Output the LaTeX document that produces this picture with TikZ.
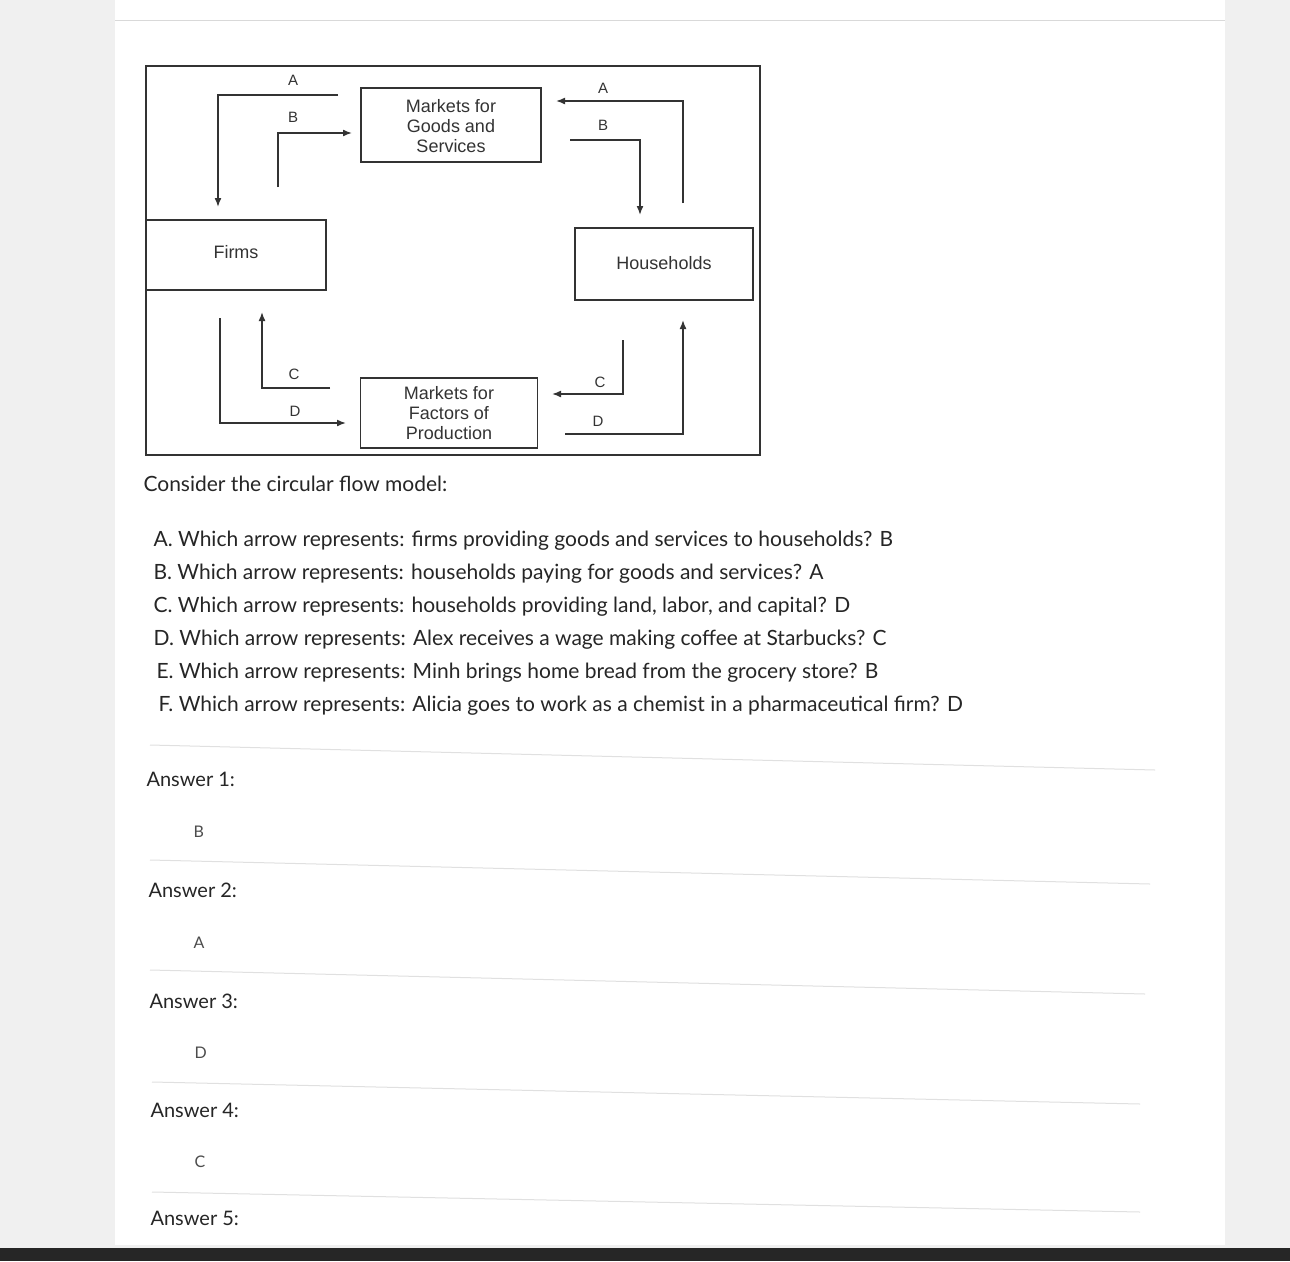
\documentclass[tikz,border=0pt]{standalone}
\usepackage{fontspec}
\usetikzlibrary{arrows.meta}
\setmainfont{Lato}
\newfontfamily\diag{Liberation Sans}
\begin{document}
\begin{tikzpicture}[x=1pt,y=-1pt,
  box/.style={draw=black!80,line width=1.6pt,inner sep=0pt},
  lab/.style={font=\diag\fontsize{15}{15}\selectfont,text=black!80},
  mk/.style={font=\diag\fontsize{18}{20}\selectfont,text=black!80,align=center},
  flow/.style={draw=black!80,line width=1.6pt,-{Latex[length=9pt,width=7pt]}},
  q/.style={anchor=west,font=\fontsize{21}{22}\selectfont,text=black!85},
  ans/.style={anchor=west,font=\fontsize{20}{22}\selectfont,text=black!85},
  val/.style={anchor=west,font=\fontsize{16}{16}\selectfont,text=black!70},
  sep/.style={draw=black!12,line width=1pt}]
\useasboundingbox (0,0) rectangle (1290,1261);
\fill[black!6] (0,0) rectangle (1290,1261);
\fill[white] (115,0) rectangle (1225,1245);
\draw[black!15] (115,20) -- (1225,20);
\fill[black!85] (0,1248) rectangle (1290,1261);
% frame
\draw[box] (146,66) rectangle (760,455);
\node[box,fill=white,minimum width=180pt,minimum height=70pt] (firms) at (236,255) {};
\node[lab,font=\diag\fontsize{18}{18}\selectfont] at (236,252) {Firms};
\node[box,fill=white,minimum width=178pt,minimum height=72pt] (hh) at (664,264) {};
\node[lab,font=\diag\fontsize{18}{18}\selectfont] at (664,263) {Households};
\node[box,minimum width=180pt,minimum height=74pt] (gm) at (451,125) {};
\node[mk] at (451,126) {Markets for\\Goods and\\Services};
\node[box,minimum width=177pt,minimum height=70pt] (fm) at (449,413) {};
\node[mk] at (449,413) {Markets for\\Factors of\\Production};
% top-left
\coordinate (a1) at (338,95);
\draw[flow] (a1) -- (218,95) -- (218,207);
\coordinate (b1) at (278,187);
\draw[flow] (b1) -- (278,133) -- (352,133);
\node[lab] (lA1) at (293,80) {A};
\node[lab] (lB1) at (293,117) {B};
% top-right
\coordinate (a2) at (683,203);
\draw[flow] (a2) -- (683,101) -- (556,101);
\coordinate (b2) at (570,140);
\draw[flow] (b2) -- (640,140) -- (640,215);
\node[lab] (lA2) at (603,88) {A};
\node[lab] (lB2) at (603,125) {B};
% bottom-left
\coordinate (c1) at (330,388);
\draw[flow] (c1) -- (262,388) -- (262,312);
\coordinate (d1) at (220,318);
\draw[flow] (d1) -- (220,423) -- (346,423);
\node[lab] (lC1) at (294,374) {C};
\node[lab] (lD1) at (295,411) {D};
% bottom-right
\coordinate (c2) at (623,340);
\draw[flow] (c2) -- (623,394) -- (552,394);
\coordinate (d2) at (565,434);
\draw[flow] (d2) -- (683,434) -- (683,320);
\node[lab] (lC2) at (600,382) {C};
\node[lab] (lD2) at (598,421) {D};
% text
\node[q] (t0) at (140,484) {Consider the circular flow model:};
\node[q] (t1) at (150,541) {A. Which arrow represents: firms providing goods and services to households? B};
\node[q] (t2) at (150,574) {B. Which arrow represents: households paying for goods and services? A};
\node[q] (t3) at (150,607) {C. Which arrow represents: households providing land, labor, and capital? D};
\node[q] (t4) at (150,640) {D. Which arrow represents: Alex receives a wage making coffee at Starbucks? C};
\node[q] (t5) at (153,673) {E. Which arrow represents: Minh brings home bread from the grocery store? B};
\node[q] (t6) at (155,706) {F. Which arrow represents: Alicia goes to work as a chemist in a pharmaceutical firm? D};
\draw[sep] (150,745) -- (1155,770);
\node[ans] (n1) at (143,779) {Answer 1:};
\node[val] (v1) at (190,832) {B};
\draw[sep] (150,860) -- (1150,884);
\node[ans] (n2) at (145,890) {Answer 2:};
\node[val] (v2) at (190,943) {A};
\draw[sep] (150,970) -- (1145,994);
\node[ans] (n3) at (146,1001) {Answer 3:};
\node[val] (v3) at (191,1053) {D};
\draw[sep] (152,1082) -- (1140,1104);
\node[ans] (n4) at (147,1110) {Answer 4:};
\node[val] (v4) at (191,1162) {C};
\draw[sep] (152,1192) -- (1140,1212);
\node[ans] (n5) at (147,1218) {Answer 5:};
\end{tikzpicture}
\end{document}
